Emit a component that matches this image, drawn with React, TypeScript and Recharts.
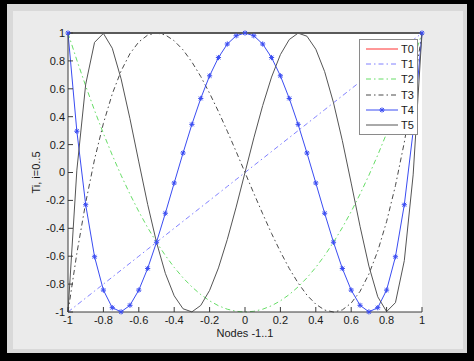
import React from 'react';
import { LineChart, Line, XAxis, YAxis, CartesianGrid, Legend, ReferenceLine } from 'recharts';

// nodes on [-1, 1], step 0.05
const nodes = [
  -1, -0.95, -0.9, -0.85, -0.8, -0.75, -0.7, -0.65, -0.6, -0.55, -0.5,
  -0.45, -0.4, -0.35, -0.3, -0.25, -0.2, -0.15, -0.1, -0.05, 0,
  0.05, 0.1, 0.15, 0.2, 0.25, 0.3, 0.35, 0.4, 0.45, 0.5,
  0.55, 0.6, 0.65, 0.7, 0.75, 0.8, 0.85, 0.9, 0.95, 1,
];

const t0 = [
  1, 1, 1, 1, 1, 1, 1, 1, 1, 1, 1, 1, 1, 1, 1, 1, 1, 1, 1, 1, 1,
  1, 1, 1, 1, 1, 1, 1, 1, 1, 1, 1, 1, 1, 1, 1, 1, 1, 1, 1, 1,
];
const t1 = [
  -1, -0.95, -0.9, -0.85, -0.8, -0.75, -0.7, -0.65, -0.6, -0.55, -0.5,
  -0.45, -0.4, -0.35, -0.3, -0.25, -0.2, -0.15, -0.1, -0.05, 0,
  0.05, 0.1, 0.15, 0.2, 0.25, 0.3, 0.35, 0.4, 0.45, 0.5,
  0.55, 0.6, 0.65, 0.7, 0.75, 0.8, 0.85, 0.9, 0.95, 1,
];
const t2 = [
  1, 0.805, 0.62, 0.445, 0.28, 0.125, -0.02, -0.155, -0.28, -0.395, -0.5,
  -0.595, -0.68, -0.755, -0.82, -0.875, -0.92, -0.955, -0.98, -0.995, -1,
  -0.995, -0.98, -0.955, -0.92, -0.875, -0.82, -0.755, -0.68, -0.595, -0.5,
  -0.395, -0.28, -0.155, -0.02, 0.125, 0.28, 0.445, 0.62, 0.805, 1,
];
const t3 = [
  -1, -0.58, -0.216, 0.094, 0.352, 0.563, 0.728, 0.852, 0.936, 0.985, 1,
  0.986, 0.944, 0.879, 0.792, 0.688, 0.568, 0.437, 0.296, 0.15, 0,
  -0.15, -0.296, -0.437, -0.568, -0.688, -0.792, -0.879, -0.944, -0.986, -1,
  -0.985, -0.936, -0.852, -0.728, -0.563, -0.352, -0.094, 0.216, 0.58, 1,
];
const t4 = [
  1, 0.296, -0.231, -0.604, -0.843, -0.969, -0.999, -0.952, -0.843, -0.688, -0.5,
  -0.292, -0.075, 0.14, 0.345, 0.531, 0.693, 0.824, 0.921, 0.98, 1,
  0.98, 0.921, 0.824, 0.693, 0.531, 0.345, 0.14, -0.075, -0.292, -0.5,
  -0.688, -0.843, -0.952, -0.999, -0.969, -0.843, -0.604, -0.231, 0.296, 1,
];
const t5 = [
  -1, 0.017, 0.632, 0.933, 0.997, 0.891, 0.671, 0.386, 0.076, -0.228, -0.5,
  -0.723, -0.884, -0.977, -0.999, -0.953, -0.845, -0.684, -0.48, -0.248, 0,
  0.248, 0.48, 0.684, 0.845, 0.953, 0.999, 0.977, 0.884, 0.723, 0.5,
  0.228, -0.076, -0.386, -0.671, -0.891, -0.997, -0.933, -0.632, -0.017, 1,
];

const tickValues = [-1, -0.8, -0.6, -0.4, -0.2, 0, 0.2, 0.4, 0.6, 0.8, 1];

const data = nodes.map((x, i) => ({
  x,
  T0: t0[i],
  T1: t1[i],
  T2: t2[i],
  T3: t3[i],
  T4: t4[i],
  T5: t5[i],
}));

const FONT = '"Liberation Sans", Arial, sans-serif';
const AXIS = '#3a3a3a';
const T4_COLOR = '#3a4cf2';

const series = [
  { key: 'T0', color: '#ff3030', dash: undefined },
  { key: 'T1', color: '#8080ff', dash: '5 3 1.5 3' },
  { key: 'T2', color: '#66dd66', dash: '5 3 1.5 3' },
  { key: 'T3', color: '#4a4a4a', dash: '5 3 1.5 3' },
  { key: 'T4', color: T4_COLOR, dash: undefined },
  { key: 'T5', color: '#555555', dash: undefined },
];

// matlab style '*' marker
const StarDot = (props: any) => {
  const { cx, cy } = props;
  if (cx == null || cy == null) return null;
  const r = 2.6;
  const d = 1.9;
  return (
    <g stroke={T4_COLOR} strokeWidth={1}>
      <line x1={cx - r} y1={cy} x2={cx + r} y2={cy} />
      <line x1={cx} y1={cy - r} x2={cx} y2={cy + r} />
      <line x1={cx - d} y1={cy - d} x2={cx + d} y2={cy + d} />
      <line x1={cx - d} y1={cy + d} x2={cx + d} y2={cy - d} />
    </g>
  );
};

const LegendBox = () => (
  <div
    style={{
      width: 59,
      height: 96,
      boxSizing: 'border-box',
      background: '#fff',
      border: '1px solid #8a8a8a',
      paddingTop: 1,
      fontFamily: FONT,
      fontSize: 11,
      color: '#1a1a1a',
    }}
  >
    {series.map((s) => (
      <div key={s.key} style={{ height: 15.3, display: 'flex', alignItems: 'center' }}>
        <svg width={41} height={10} style={{ display: 'block' }}>
          <line x1={6} y1={5} x2={38} y2={5} stroke={s.color} strokeDasharray={s.dash} />
          {s.key === 'T4' && <StarDot cx={22} cy={5} />}
        </svg>
        <span>{s.key}</span>
      </div>
    ))}
  </div>
);

const tickStyle = { fontFamily: FONT, fontSize: 11, fill: '#1a1a1a' };

export default function App() {
  return (
    <div style={{ position: 'fixed', left: 0, top: 0, width: 474, height: 361, background: '#000' }}>
      <div style={{ position: 'absolute', left: 7, top: 4, width: 460, height: 349, background: '#d9d9d9' }} />
      <div style={{ position: 'absolute', left: 13, top: 11, width: 450, height: 338, background: '#ebebeb' }} />
      <div style={{ position: 'absolute', left: 0, top: 0 }}>
        <LineChart width={474} height={361} data={data} margin={{ top: 33, right: 52, bottom: 19, left: 28 }}>
          <CartesianGrid fill="#fff" horizontal={false} vertical={false} />
          <XAxis
            dataKey="x"
            type="number"
            domain={[-1, 1]}
            ticks={tickValues}
            height={30}
            stroke={AXIS}
            tickSize={-5}
            tickMargin={9}
            tick={tickStyle}
            label={{ value: 'Nodes -1..1', position: 'insideBottom', offset: 5, style: { fontFamily: FONT, fontSize: 11, fill: '#1a1a1a' } }}
          />
          <YAxis
            type="number"
            domain={[-1, 1]}
            ticks={tickValues}
            width={40}
            stroke={AXIS}
            tickSize={-5}
            tickMargin={8}
            tick={tickStyle}
            label={{ value: 'Ti, i=0..5', angle: -90, position: 'insideLeft', offset: 8, style: { fontFamily: FONT, fontSize: 11, fill: '#1a1a1a', textAnchor: 'middle' } }}
          />
          {series.map((s) => (
            <Line
              key={s.key}
              type="linear"
              dataKey={s.key}
              stroke={s.color}
              strokeWidth={1}
              strokeDasharray={s.dash}
              dot={s.key === 'T4' ? <StarDot /> : false}
              activeDot={false}
              isAnimationActive={false}
            />
          ))}
          {/* axes box is drawn over T0, which lies on the top edge */}
          <ReferenceLine y={1} stroke="#5a5a5a" strokeWidth={2} />
          <XAxis xAxisId="top" orientation="top" type="number" domain={[-1, 1]} ticks={tickValues} height={0} stroke={AXIS} tickSize={-5} tick={false} />
          <YAxis yAxisId="right" orientation="right" type="number" domain={[-1, 1]} ticks={tickValues} width={0} stroke={AXIS} tickSize={-5} tick={false} />
          <Legend
            layout="vertical"
            align="center"
            verticalAlign="middle"
            content={<LegendBox />}
            wrapperStyle={{ left: 359, top: 39, width: 59, height: 96 }}
          />
        </LineChart>
      </div>
    </div>
  );
}
